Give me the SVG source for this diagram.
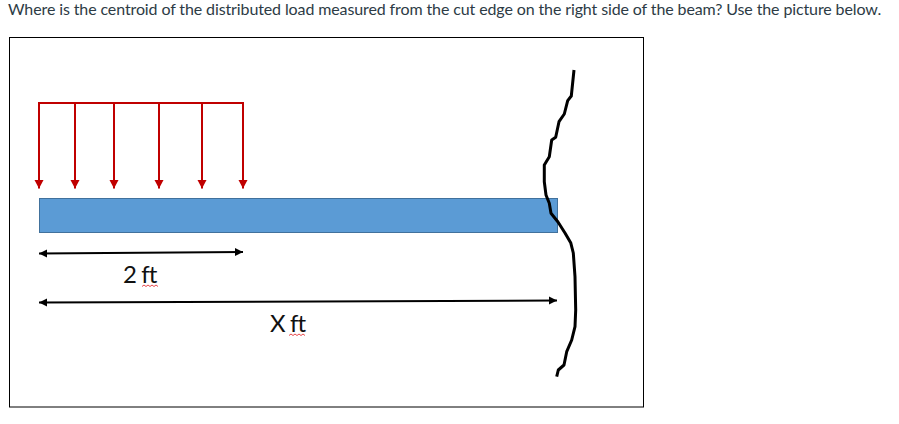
<svg xmlns="http://www.w3.org/2000/svg" width="899" height="424" viewBox="0 0 899 424">
<style>
.title{font-family:Lato,"Liberation Sans",sans-serif;font-size:16px;fill:#2d3b45;letter-spacing:-0.115px}
.lbl{font-family:Lato,"Open Sans",sans-serif;font-size:24px;fill:#111;letter-spacing:-0.9px}
.red{stroke:#c00000;stroke-width:2;fill:none}
.blk{stroke:#000;stroke-width:2;fill:none}
.sq{stroke:#e8484c;stroke-width:1;fill:none}
</style>
<defs>
<marker id="ra" markerUnits="userSpaceOnUse" markerWidth="10" markerHeight="10" refX="8.500" refY="5" orient="auto"><path d="M0 0.500L8.500 5L0 9.500Z" fill="#c00000"/></marker>
<marker id="ba" markerUnits="userSpaceOnUse" markerWidth="9" markerHeight="9" refX="8" refY="4.500" orient="auto-start-reverse"><path d="M0 0.500L8 4.500L0 8.500Z" fill="#000"/></marker>
</defs>
<rect width="899" height="424" fill="#fff"/>
<text class="title" x="8" y="15">Where is the centroid of the distributed load measured from the cut edge on the right side of the beam? Use the picture below.</text>
<rect id="frame" x="9.500" y="37.500" width="634" height="369.500" fill="#fff" stroke="#000" stroke-width="1"/>
<g id="beam"><rect x="39.500" y="198.500" width="518" height="34" fill="#5b9bd5" stroke="#41719c" stroke-width="1"/></g>
<g id="connectors">
<path class="red" d="M38 103H244"/>
<path class="red" d="M39 103V188.500" marker-end="url(#ra)"/>
<path class="red" d="M75 103V188.500" marker-end="url(#ra)"/>
<path class="red" d="M114 103V188.500" marker-end="url(#ra)"/>
<path class="red" d="M159 103V188.500" marker-end="url(#ra)"/>
<path class="red" d="M202 103V188.500" marker-end="url(#ra)"/>
<path class="red" d="M243 103V188.500" marker-end="url(#ra)"/>
<path class="blk" d="M39 253.500L243 252" marker-start="url(#ba)" marker-end="url(#ba)"/>
<path class="blk" d="M39 302.500L557 300.500" marker-start="url(#ba)" marker-end="url(#ba)"/>
</g>
<g id="cut-edge"><path d="M574 70L571.300 96L567.700 100.700L564.300 114L559 121.700L555.700 137.300L551.700 140L549.300 156.700L544.300 165L544.300 181.700L546 195L549.300 203.300L551 213.300L558 222L565 233L570.700 242.700L573.300 253L575 276.700L575.700 310L575 326.700L571.700 340L566.700 351.700L564 365L558.300 370L556.700 376.700" fill="none" stroke="#000" stroke-width="3" stroke-linejoin="round"/></g>
<g id="label-2ft"><text class="lbl" x="123" y="283">2 ft</text><path class="sq" d="M142 286.500l2 -1.500 2 1.500 2 -1.500 2 1.500 2 -1.500 2 1.500 2 -1.500 2 1.500"/></g>
<g id="label-xft"><text class="lbl" x="270" y="332">X ft</text><path class="sq" d="M289 335.500l2 -1.500 2 1.500 2 -1.500 2 1.500 2 -1.500 2 1.500 2 -1.500 2 1.500"/></g>
</svg>
